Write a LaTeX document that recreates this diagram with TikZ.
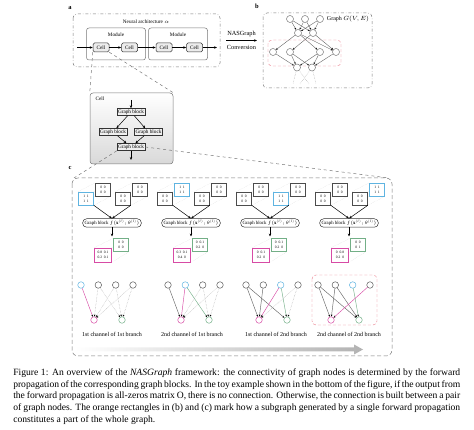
\RequirePackage{fix-cm}
\documentclass[tikz,border=0pt]{standalone}
\usepackage{fontspec}
\setmainfont{Liberation Serif}
\usepackage{amsmath}
\usetikzlibrary{shapes, arrows, arrows.meta, positioning, calc, backgrounds}

\DeclareMathSizes{4.8}{4.8}{3.4}{2.8}
\DeclareMathSizes{5.2}{5.2}{3.6}{3}
\DeclareMathSizes{6}{6}{4.2}{3.4}

\definecolor{nasblue}{RGB}{95,180,225}
\definecolor{naspink}{RGB}{215,75,165}
\definecolor{nasgreen}{RGB}{115,175,135}
\definecolor{nasred}{RGB}{232,120,135}
\definecolor{framegray}{RGB}{120,120,120}

\newcommand{\zeromat}{0\enspace0\\0\enspace0}
\newcommand{\onesmat}{1\enspace1\\1\enspace1}

\tikzset{
  plabel/.style={font=\bfseries\fontsize{6.5}{7}\selectfont},
  tiny/.style={font=\fontsize{5.2}{6}\selectfont},
  module/.style={draw=framegray, rounded corners=2.5pt, minimum width=59pt, minimum height=32pt},
  cell/.style={draw=black!80, fill=gray!15, rounded corners=1.5pt, minimum width=16pt, minimum height=9pt, inner sep=0pt, tiny},
  cellbox/.style={draw=framegray, rounded corners=3pt, top color=white, bottom color=gray!30, minimum width=83pt, minimum height=71pt},
  gblock/.style={draw=black!80, fill=gray!12, inner sep=1pt, minimum height=7pt, tiny},
  fblock/.style={draw=black!80, rounded corners=4pt, fill=white, minimum height=8.5pt, inner xsep=2pt, inner ysep=1pt, font=\fontsize{4.8}{5.5}\selectfont},
  mat/.style={draw=#1, line width=0.6pt, fill=white, minimum width=15pt, minimum height=13pt, inner sep=0pt, align=center, font=\fontsize{3.6}{4.8}\selectfont},
  gnode/.style={circle, draw=#1, line width=0.5pt, fill=white, minimum size=6.5pt, inner sep=0pt},
  vnode/.style={circle, draw=framegray, fill=white, minimum size=7pt, inner sep=0pt},
  cube/.style={draw=gray!45, densely dotted, line width=0.3pt},
  link/.style={draw=#1, line width=0.45pt, -{Stealth[length=2pt,width=1.7pt,color=black]}},
  link/.default={black!60},
  nolink/.style={draw=gray!70, densely dotted, line width=0.45pt, -{Stealth[length=2pt,width=1.7pt,color=black]}},
  zoomline/.style={draw=framegray, dashed, line width=0.5pt},
  chan/.style={font=\fontsize{6}{7}\selectfont},
  capline/.style={anchor=base west, inner sep=0pt, font=\fontsize{9.6}{11.7}\selectfont}
}

\begin{document}
\begin{tikzpicture}[x=1pt, y=-1pt, >={Stealth[length=3pt,width=2.4pt]}, line width=0.5pt]
\useasboundingbox (0,0) rectangle (474,430);

% (a) neural architecture
\node[plabel] (la) at (70,8) {a};
\draw[dash dot, draw=framegray, rounded corners=4pt] (73,14) rectangle (220,67);
\node[tiny] (arch) at (146,22) {Neural architecture $\alpha$};
\node[module] (mod1) at (116,44) {};
\node[module] (mod2) at (178,44) {};
\node[tiny] (modl1) at (116,35) {Module};
\node[tiny] (modl2) at (178,35) {Module};
\node[cell] (c1) at (101,47.5) {Cell};
\node[cell] (c2) at (129.5,47.5) {Cell};
\node[cell] (c3) at (164,47.5) {Cell};
\node[cell] (c4) at (194.5,47.5) {Cell};
\coordinate (ain) at (77,47.5);
\coordinate (aout) at (217,47.5);
\draw[->] (ain) -- (c1);
\draw[->] (c1) -- (c2);
\draw[->] (c2) -- (c3);
\draw[->] (c3) -- (c4);
\draw[->] (c4) -- (aout);

% conversion
\node[font=\fontsize{6.3}{7}\selectfont] (nas) at (241.5,34) {NASGraph};
\node[font=\fontsize{6.3}{7}\selectfont] (conv) at (241.5,47) {Conversion};
\coordinate (cv1) at (226,40.5);
\coordinate (cv2) at (257,40.5);
\draw[->] (cv1) -- (cv2);

% (b) graph
\node[plabel] (lb) at (257,6) {b};
\draw[dash dot, draw=framegray, rounded corners=4pt] (263,13) rectangle (372,88);
\node[font=\fontsize{6}{7}\selectfont] (gtitle) at (348,19.5) {Graph $G(V,E)$};
\draw[nasred, densely dashed, line width=0.4pt, rounded corners=4pt] (268,40) rectangle (341,66);
\begin{scope}[every node/.style={vnode}]
  \node (t1) at (290,19) {};
  \node (t2) at (305,19) {};
  \node (t3) at (320,19) {};
  \node (s1) at (298,33) {};
  \node (s2) at (313,33) {};
  \node (r1) at (273,52) {};
  \node (r2) at (290,52) {};
  \node (r3) at (320,52) {};
  \node (r4) at (336,52) {};
  \node (u1) at (297,67.5) {};
  \node (u2) at (312,67.5) {};
\end{scope}
\coordinate (b1) at (293,84);
\coordinate (b2) at (300,84);
\coordinate (b3) at (309,84);
\coordinate (b4) at (316,84);
\begin{scope}[every path/.style={link=black!60, line width=0.4pt}]
  \foreach \a in {1,2,3} \foreach \b in {1,2} \path (t\a) edge (s\b);
  \path (s1) edge (r1);
  \path (s1) edge (r3);
  \path (s1) edge (r4);
  \path (s2) edge (r2);
  \path (s2) edge (r4);
  \path (r1) edge (u1);
  \path (r2) edge (u1);
  \path (r2) edge (u2);
  \path (r3) edge (u1);
  \path (r3) edge (u2);
  \path (r4) edge (u2);
\end{scope}
\draw[gray!60, densely dotted] (u1) -- (b1);
\draw[gray!60, densely dotted] (u1) -- (b3);
\draw[gray!60, densely dotted] (u2) -- (b2);
\draw[gray!60, densely dotted] (u2) -- (b4);

% cell
\node[cellbox] (cellbox) at (131.5,128.5) {};
\draw[zoomline] (c1.south west) -- (cellbox.north west);
\draw[zoomline] (c1.south east) -- (cellbox.north east);
\node[tiny] (celll) at (100,98.5) {Cell};
\node[gblock] (g1) at (131,112) {Graph block};
\node[gblock] (g2) at (113,132) {Graph block};
\node[gblock] (g3) at (148.5,132) {Graph block};
\node[gblock] (g4) at (131,147) {Graph block};
\coordinate (cin) at (131,100);
\coordinate (cout) at (131,160);
\draw[->] (cin) -- (g1);
\draw[->] (g1) -- (g2);
\draw[->] (g1) -- (g3);
\draw[->] (g2) -- (g4);
\draw[->] (g3) -- (g4);
\draw[->] (g4) -- (cout);

% (c) forward propagation
\node[plabel] (lc) at (70,168) {c};
\coordinate (ctl) at (74,178);
\coordinate (ctr) at (389,178);
\draw[zoomline] (g4.south west) -- (ctl);
\draw[zoomline] (g4.east) -- (ctr);
\draw[draw=framegray, dash pattern=on 4pt off 2.5pt, rounded corners=6pt] (72,178) rectangle (392,356);

\foreach \i/\X/\B in {1/112/1, 2/191/2, 3/270/3, 4/349/4}{
  \foreach \k/\dx/\y in {1/-26/198.5, 2/-9/189.5, 3/11/198.5, 4/28/189.5}{
    \ifnum\k=\B
      \node[mat=nasblue] (m\i\k) at (\X+\dx,\y) {\onesmat};
    \else
      \node[mat=black!70] (m\i\k) at (\X+\dx,\y) {\zeromat};
    \fi
  }
  \begin{scope}[on background layer]
    \foreach \a/\b in {1/2,3/4}
      \foreach \c in {north west, north east, south east, south west}
        \draw[cube] (m\i\a.\c) -- (m\i\b.\c);
  \end{scope}
  \node[fblock] (gb\i) at (\X,223) {Graph block $f(\mathbf{x}^{(l)};\theta^{(l)})$};
  \draw[->] (m\i1.south east) -- (gb\i.north);
  \draw[->] (m\i3.south east) -- (gb\i.north);
  \coordinate (go\i) at (\X,236.5);
  \draw[->] (gb\i) -- (go\i);
}

\foreach \i/\X/\P/\Q in {1/112/{0.8\enspace0.1\\0.2\enspace0.1}/{0\enspace0\\0\enspace0},
                         2/191/{0.3\enspace0.1\\0.4\enspace0}/{0\enspace0.1\\0.2\enspace0},
                         3/270/{0\enspace0.1\\0.2\enspace0}/{0\enspace0.1\\0.2\enspace0},
                         4/349/{0\enspace0.8\\0.2\enspace0}/{0\enspace0\\0\enspace1}}{
  \node[mat=nasgreen] (oq\i) at (\X+9,245) {\Q};
  \node[mat=naspink, minimum width=17pt, minimum height=14pt] (op\i) at (\X-9,255) {\P};
  \begin{scope}[on background layer]
    \foreach \c in {north west, north east, south east, south west}
      \draw[cube] (op\i.\c) -- (oq\i.\c);
  \end{scope}
}

% bottom graphs
\draw[nasred, densely dashed, line width=0.4pt, rounded corners=4pt] (312,275) rectangle (377,325);
\foreach \i/\G/\B in {1/107/1, 2/194/2, 3/272/3, 4/344/3}{
  \foreach \k/\dx in {1/-26, 2/-8.7, 3/8.7, 4/26}{
    \ifnum\k=\B
      \node[gnode=nasblue] (n\i\k) at (\G+\dx,285) {};
    \else
      \node[gnode=black!65] (n\i\k) at (\G+\dx,285) {};
    \fi
  }
  \node[gnode=naspink] (p\i) at (\G-13,320) {};
  \node[gnode=nasgreen] (q\i) at (\G+15,320) {};
}
\foreach \i/\L/\txt in {1/112/1st channel of 1st branch, 2/192/2nd channel of 1st branch,
                        3/276/1st channel of 2nd branch, 4/349/2nd channel of 2nd branch}
  \node[chan] (lab\i) at (\L,334) {\txt};

% 1st channel of 1st branch
\draw[link=naspink] (n11) -- (p1);
\draw[nolink] (n12) -- (p1);
\draw[nolink] (n13) -- (p1);
\draw[nolink] (n14) -- (p1);
\draw[nolink] (n12) -- (q1);
\draw[nolink] (n13) -- (q1);
\draw[nolink] (n14) -- (q1);
% 2nd channel of 1st branch
\draw[link] (n21) -- (p2);
\draw[link=naspink] (n22) -- (p2);
\draw[link=nasgreen] (n22) -- (q2);
\draw[nolink] (n23) -- (p2);
\draw[nolink] (n23) -- (q2);
\draw[nolink] (n24) -- (p2);
\draw[nolink] (n24) -- (q2);
% 1st channel of 2nd branch
\draw[link] (n31) -- (p3);
\draw[link] (n31) -- (q3);
\draw[link] (n32) -- (p3);
\draw[link=naspink] (n33) -- (p3);
\draw[link=nasgreen] (n33) -- (q3);
\draw[nolink] (n34) -- (p3);
\draw[nolink] (n34) -- (q3);
% 2nd channel of 2nd branch
\draw[link] (n41) -- (p4);
\draw[link] (n41) -- (q4);
\draw[link] (n42) -- (p4);
\draw[link] (n42) -- (q4);
\draw[link=nasgreen] (n43) -- (q4);
\draw[link=naspink] (n44) -- (p4);

% time arrow
\shade[left color=white, right color=gray!60] (75,347.5) -- (354,347.5) -- (354,344.5) -- (363,349.5)
  -- (354,354.5) -- (354,351.5) -- (75,351.5) -- cycle;

% caption
\node[capline] (cap1) at (13,375.5) {\makebox[447pt][s]{Figure 1: An overview of the \textit{NASGraph} framework: the connectivity of graph nodes is determined by the forward}};
\node[capline] (cap2) at (13,387.2) {\makebox[447pt][s]{propagation of the corresponding graph blocks. In the toy example shown in the bottom of the figure, if the output from}};
\node[capline] (cap3) at (13,398.9) {\makebox[447pt][s]{the forward propagation is all-zeros matrix O, there is no connection. Otherwise, the connection is built between a pair}};
\node[capline] (cap4) at (13,410.6) {\makebox[447pt][s]{of graph nodes. The orange rectangles in (b) and (c) mark how a subgraph generated by a single forward propagation}};
\node[capline] (cap5) at (13,422.3) {constitutes a part of the whole graph.};
\end{tikzpicture}
\end{document}
